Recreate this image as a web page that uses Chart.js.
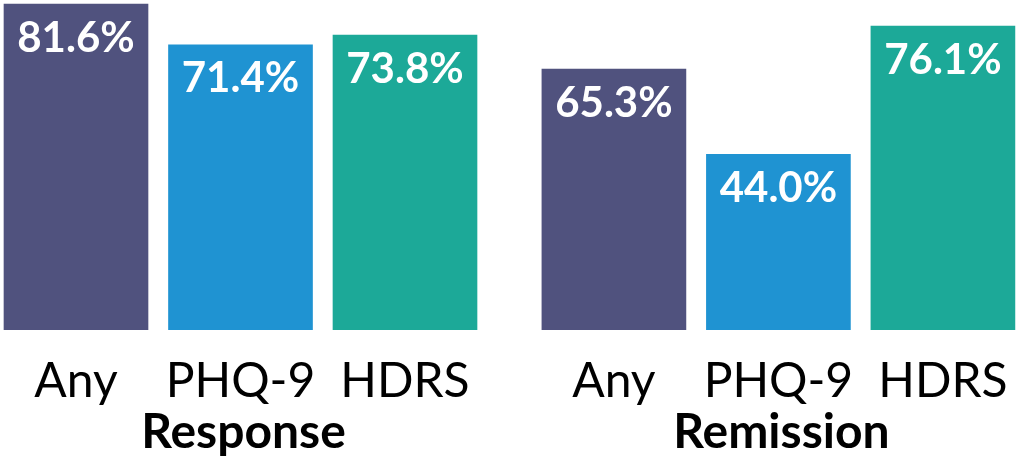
<!DOCTYPE html>
<html>
<head>
<meta charset="utf-8">
<script src="https://cdn.jsdelivr.net/npm/chart.js@4.4.1/dist/chart.umd.min.js"></script>
<style>
    html, body { margin: 0; padding: 0; background: #ffffff; }
    #wrap { width: 1024px; height: 460px; }
</style>
</head>
<body>
<div id="wrap"><canvas id="chart" width="1024" height="460"></canvas></div>
<script>
// --- Data ---
const groups = ['Response', 'Remission'];
const measures = ['Any', 'PHQ-9', 'HDRS'];
const responseValues = [81.6, 71.4, 73.8];
const remissionValues = [65.3, 44.0, 76.1];

const colors = ['#50527e', '#1f93d2', '#1ca998'];
const GROUP_GAP = 1.27; // extra space between the two groups (in bar steps)

document.addEventListener('DOMContentLoaded', function () {

    const seriesByGroup = [responseValues, remissionValues];

    // x position of a bar: bars inside a group are 1 apart, groups are pushed apart
    function xPos(g, i) {
        return g * (measures.length - 1 + GROUP_GAP) + i;
    }

    // one dataset per measure, one point per group
    const datasets = measures.map(function (m, i) {
        return {
            label: m,
            data: groups.map(function (g, gi) {
                return { x: xPos(gi, i), y: seriesByGroup[gi][i] };
            }),
            backgroundColor: colors[i],
            borderWidth: 0,
            barThickness: 144,
            grouped: false
        };
    });

    // --- Draw value labels, measure labels and group labels ---
    const labelPlugin = {
        id: 'labels',
        afterDatasetsDraw: function (chart) {
            const ctx = chart.ctx;
            const xScale = chart.scales.x;
            ctx.save();
            ctx.textAlign = 'center';

            // values inside the bars
            ctx.fillStyle = '#ffffff';
            ctx.font = 'bold 42px Lato';
            ctx.textBaseline = 'middle';
            chart.data.datasets.forEach(function (ds, di) {
                chart.getDatasetMeta(di).data.forEach(function (bar, j) {
                    ctx.fillText(ds.data[j].y.toFixed(1) + '%', bar.x, bar.y + 34);
                });
            });

            // measure names under each bar
            ctx.fillStyle = '#000000';
            ctx.textBaseline = 'alphabetic';
            ctx.font = '48px Lato';
            groups.forEach(function (g, gi) {
                measures.forEach(function (m, i) {
                    ctx.fillText(m, xScale.getPixelForValue(xPos(gi, i)), 397);
                });
            });

            // group names
            ctx.font = 'bold 48px Lato';
            groups.forEach(function (g, gi) {
                ctx.fillText(g, xScale.getPixelForValue(xPos(gi, 1)) + 3, 448);
            });
            ctx.restore();
        }
    };

    const ctx = document.getElementById('chart').getContext('2d');
    new Chart(ctx, {
        type: 'bar',
        data: { datasets: datasets },
        options: {
            responsive: false,
            animation: false,
            layout: { padding: { top: 0, left: 0, right: 0, bottom: 130 } },
            plugins: {
                legend: { display: false },
                tooltip: { enabled: false }
            },
            scales: {
                x: {
                    type: 'linear',
                    display: false,
                    offset: false,
                    min: -0.462,
                    max: -0.462 + 1024 / 164.5
                },
                y: {
                    display: false,
                    min: 0,
                    max: 82.6
                }
            }
        },
        plugins: [labelPlugin]
    });
});
</script>
</body>
</html>
